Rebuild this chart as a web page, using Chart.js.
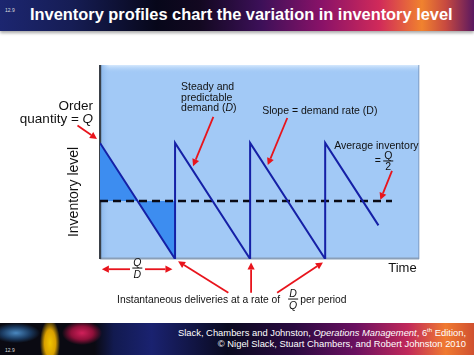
<!DOCTYPE html>
<html><head><meta charset="utf-8">
<script src="https://cdn.jsdelivr.net/npm/chart.js@4/dist/chart.umd.min.js"></script>
<style>
html,body{margin:0;padding:0;background:#fff;}
#wrap{position:relative;width:474px;height:355px;overflow:hidden;font-family:"Liberation Sans",Arial,sans-serif;}
#hdr{position:absolute;left:0;top:0;width:474px;height:31px;
 background:linear-gradient(90deg,#1c2670 0%,#161d55 15%,#07071a 33%,#120820 42%,#3c1058 55%,#8a1268 68%,#d02a5a 80%,#f0822e 89%,#c84a40 94%,#5a1860 100%);
 box-shadow:0 2px 3px rgba(0,0,0,.35);}
#hdr .t{position:absolute;left:30px;top:5px;color:#fff;font:bold 16.4px "Liberation Sans",Arial,sans-serif;white-space:nowrap;}
.num{position:absolute;color:#ddd;font:5px "Liberation Sans",Arial,sans-serif;}
#ftr{position:absolute;left:0;top:323px;width:474px;height:32px;
 background:
  radial-gradient(ellipse 10px 24px at 50px 20px,#f2c400 0%,#d8a000 55%,rgba(0,0,0,0) 100%),
  radial-gradient(ellipse 20px 12px at 82px 10px,#d0205a 0%,#90103a 55%,rgba(0,0,0,0) 100%),
  radial-gradient(ellipse 24px 10px at 16px 10px,#4a88c0 0%,#1a3a60 60%,rgba(0,0,0,0) 100%),
  linear-gradient(90deg,#0a0a12 0%,#0a0a12 20%,#121a50 24%,#1a2270 32%,#0a0a20 48%,#2a0a40 62%,#6a1060 75%,#c0285a 86%,#f07a30 94%,#d05030 100%);}
#ftr .l1,#ftr .l2{position:absolute;right:8px;color:#fff;font:9.4px "Liberation Sans",Arial,sans-serif;white-space:nowrap;}
#ftr .l1{top:4px;} #ftr .l2{top:15px;}
canvas{position:absolute;left:0;top:0;}
</style></head>
<body>
<div id="wrap">
 <div id="hdr"><span class="num" style="left:5px;top:7px">12.9</span><span class="t">Inventory profiles chart the variation in inventory level</span></div>
 <div id="ftr"><span class="num" style="left:5px;top:24px">12.9</span>
  <span class="l1">Slack, Chambers and Johnston, <i>Operations Management</i>, 6<sup style="font-size:6px">th</sup> Edition,</span>
  <span class="l2">© Nigel Slack, Stuart Chambers, and Robert Johnston 2010</span></div>
 <canvas id="c" width="474" height="355"></canvas>
</div>
<script>
// ---- data (units: time in order cycles Q/D, inventory in units of Q) ----
const sawTime  = [0, 1, 1, 2, 2, 3, 3, 3.71];
const sawLevel = [1, 0, 1, 0, 1, 0, 1, 0.29];
const avgTime  = [0, 3.89];
const avgLevel = [0.5, 0.5];
const aboveTime  = [0, 0.5, 0, 0];
const aboveLevel = [1, 0.5, 0.5, 1];
const belowTime  = [0.5, 1, 1, 0.5];
const belowLevel = [0.5, 0.5, 0, 0.5];

const pts = (xs, ys) => xs.map((x, i) => ({x, y: ys[i]}));

const FONT = '"Liberation Sans", Arial, sans-serif';
const RED = '#e8141c';

const bgPlugin = {
  id: 'bg',
  beforeDraw(chart) {
    const {ctx, chartArea: a} = chart;
    ctx.save();
    ctx.fillStyle = '#a2c9f6';
    ctx.fillRect(a.left, a.top, a.right - a.left, a.bottom - a.top);
    let g = ctx.createLinearGradient(0, a.top, 0, a.top + 8);
    g.addColorStop(0, '#d6e9fd'); g.addColorStop(1, 'rgba(162,201,246,0)');
    ctx.fillStyle = g; ctx.fillRect(a.left, a.top, a.right - a.left, 8);
    g = ctx.createLinearGradient(a.left, 0, a.left + 10, 0);
    g.addColorStop(0, '#86b2e6'); g.addColorStop(1, 'rgba(162,201,246,0)');
    ctx.fillStyle = g; ctx.fillRect(a.left, a.top, 10, a.bottom - a.top);
    ctx.fillStyle = '#8a9fb8'; ctx.fillRect(a.left, a.bottom - 1.5, a.right - a.left, 2);
    ctx.fillStyle = 'rgba(120,150,190,0.6)'; ctx.fillRect(a.right - 1, a.top, 1.5, a.bottom - a.top);
    ctx.fillStyle = '#3a4048'; ctx.fillRect(a.left - 1, a.top, 2.2, a.bottom - a.top);
    ctx.restore();
  }
};

const annot = {
  arrows: [
    [[-0.30, 1.15], [-0.04, 1.035]],
    [[1.51, 1.225], [1.24, 0.80]],
    [[2.495, 1.215], [2.235, 0.81]],
    [[3.89, 0.76], [3.735, 0.51]],
    [[1.71, -0.29], [1.04, -0.02]],
    [[2.013, -0.29], [2.013, -0.03]],
    [[2.36, -0.29], [2.97, -0.03]],
    [[0.40, -0.088], [0.025, -0.088]],
    [[0.60, -0.088], [0.965, -0.088]]
  ]
};

function arrow(ctx, x1, y1, x2, y2) {
  const ang = Math.atan2(y2 - y1, x2 - x1), L = 7, W = 3.6;
  const bx = x2 - L * Math.cos(ang), by = y2 - L * Math.sin(ang);
  ctx.beginPath(); ctx.moveTo(x1, y1); ctx.lineTo(bx, by); ctx.stroke();
  ctx.beginPath(); ctx.moveTo(x2, y2);
  ctx.lineTo(bx + W * Math.sin(ang), by - W * Math.cos(ang));
  ctx.lineTo(bx - W * Math.sin(ang), by + W * Math.cos(ang));
  ctx.closePath(); ctx.fill();
}

const annPlugin = {
  id: 'ann',
  afterDraw(chart) {
    const ctx = chart.ctx, sx = chart.scales.x, sy = chart.scales.y;
    const X = v => sx.getPixelForValue(v), Y = v => sy.getPixelForValue(v);
    ctx.save();
    ctx.strokeStyle = RED; ctx.fillStyle = RED; ctx.lineWidth = 1.8;
    annot.arrows.forEach(([p, q]) => arrow(ctx, X(p[0]), Y(p[1]), X(q[0]), Y(q[1])));

    ctx.fillStyle = '#111';
    ctx.textBaseline = 'alphabetic';
    const seg = (parts, x, y, align) => {
      const size = parts.size;
      let w = 0;
      parts.forEach(([t, it]) => { ctx.font = (it ? 'italic ' : '') + size + 'px ' + FONT; w += ctx.measureText(t).width; });
      let cx = align === 'right' ? x - w : align === 'center' ? x - w / 2 : x;
      ctx.textAlign = 'left';
      parts.forEach(([t, it]) => { ctx.font = (it ? 'italic ' : '') + size + 'px ' + FONT; ctx.fillText(t, cx, y); cx += ctx.measureText(t).width; });
    };
    const P = (size, ...parts) => { parts.size = size; return parts; };
    const frac = (num, den, xc, y0, size, italic) => {
      ctx.font = (italic ? 'italic ' : '') + size + 'px ' + FONT;
      ctx.textAlign = 'center';
      ctx.fillText(num, xc, y0 - 2);
      ctx.fillText(den, xc, y0 + size - 1);
      ctx.fillRect(xc - 5, y0 - 0.5, 10, 1);
      ctx.textAlign = 'left';
    };
    seg(P(13.5, ['Order']), X(-0.093), Y(1.28), 'right');
    seg(P(13.5, ['quantity = '], ['Q', true]), X(-0.093), Y(1.17), 'right');
    seg(P(10.5, ['Steady and']), X(1.08), Y(1.457), 'left');
    seg(P(10.5, ['predictable']), X(1.08), Y(1.366), 'left');
    seg(P(10.5, ['demand ('], ['D', true], [')']), X(1.08), Y(1.276), 'left');
    seg(P(10.5, ['Slope = demand rate (D)']), X(2.16), Y(1.25), 'left');
    seg(P(10.5, ['Average inventory']), X(3.12), Y(0.948), 'left');
    seg(P(10.5, ['=']), X(3.66), Y(0.815), 'left');
    frac('Q', '2', X(3.84), Y(0.845), 10.5, false);
    seg(P(13, ['Time']), X(3.84), Y(-0.112), 'left');
    frac('Q', 'D', X(0.497), Y(-0.078), 10.5, true);
    seg(P(10.3, ['Instantaneous deliveries at a rate of']), X(0.227), Y(-0.38), 'left');
    frac('D', 'Q', X(2.573), Y(-0.345), 10.5, true);
    seg(P(10.3, ['per period']), X(2.667), Y(-0.38), 'left');
    ctx.save();
    ctx.translate(X(-0.34), Y(0.578));
    ctx.rotate(-Math.PI / 2);
    ctx.font = '14px ' + FONT; ctx.textAlign = 'center'; ctx.textBaseline = 'middle';
    ctx.fillText('Inventory level', 0, 0);
    ctx.restore();
    ctx.restore();
  }
};

new Chart(document.getElementById('c'), {
  type: 'scatter',
  data: {
    datasets: [
      {data: pts(aboveTime, aboveLevel), showLine: true, fill: 'shape', backgroundColor: '#3d8df0', borderWidth: 0, pointRadius: 0, order: 3},
      {data: pts(belowTime, belowLevel), showLine: true, fill: 'shape', backgroundColor: '#3d8df0', borderWidth: 0, pointRadius: 0, order: 3},
      {data: pts(avgTime, avgLevel), showLine: true, borderColor: '#0a0a14', borderWidth: 2.6, borderDash: [8, 5], pointRadius: 0, order: 2},
      {data: pts(sawTime, sawLevel), showLine: true, borderColor: '#1520a6', borderWidth: 2, pointRadius: 0, order: 1}
    ]
  },
  options: {
    responsive: false, animation: false, events: [],
    layout: {padding: {left: 100, top: 65, right: 55, bottom: 96}},
    plugins: {legend: {display: false}, tooltip: {enabled: false}},
    scales: {
      x: {type: 'linear', display: false, min: 0, max: 4.25},
      y: {type: 'linear', display: false, min: 0, max: 1.672}
    }
  },
  plugins: [bgPlugin, annPlugin]
});
</script>
</body></html>
